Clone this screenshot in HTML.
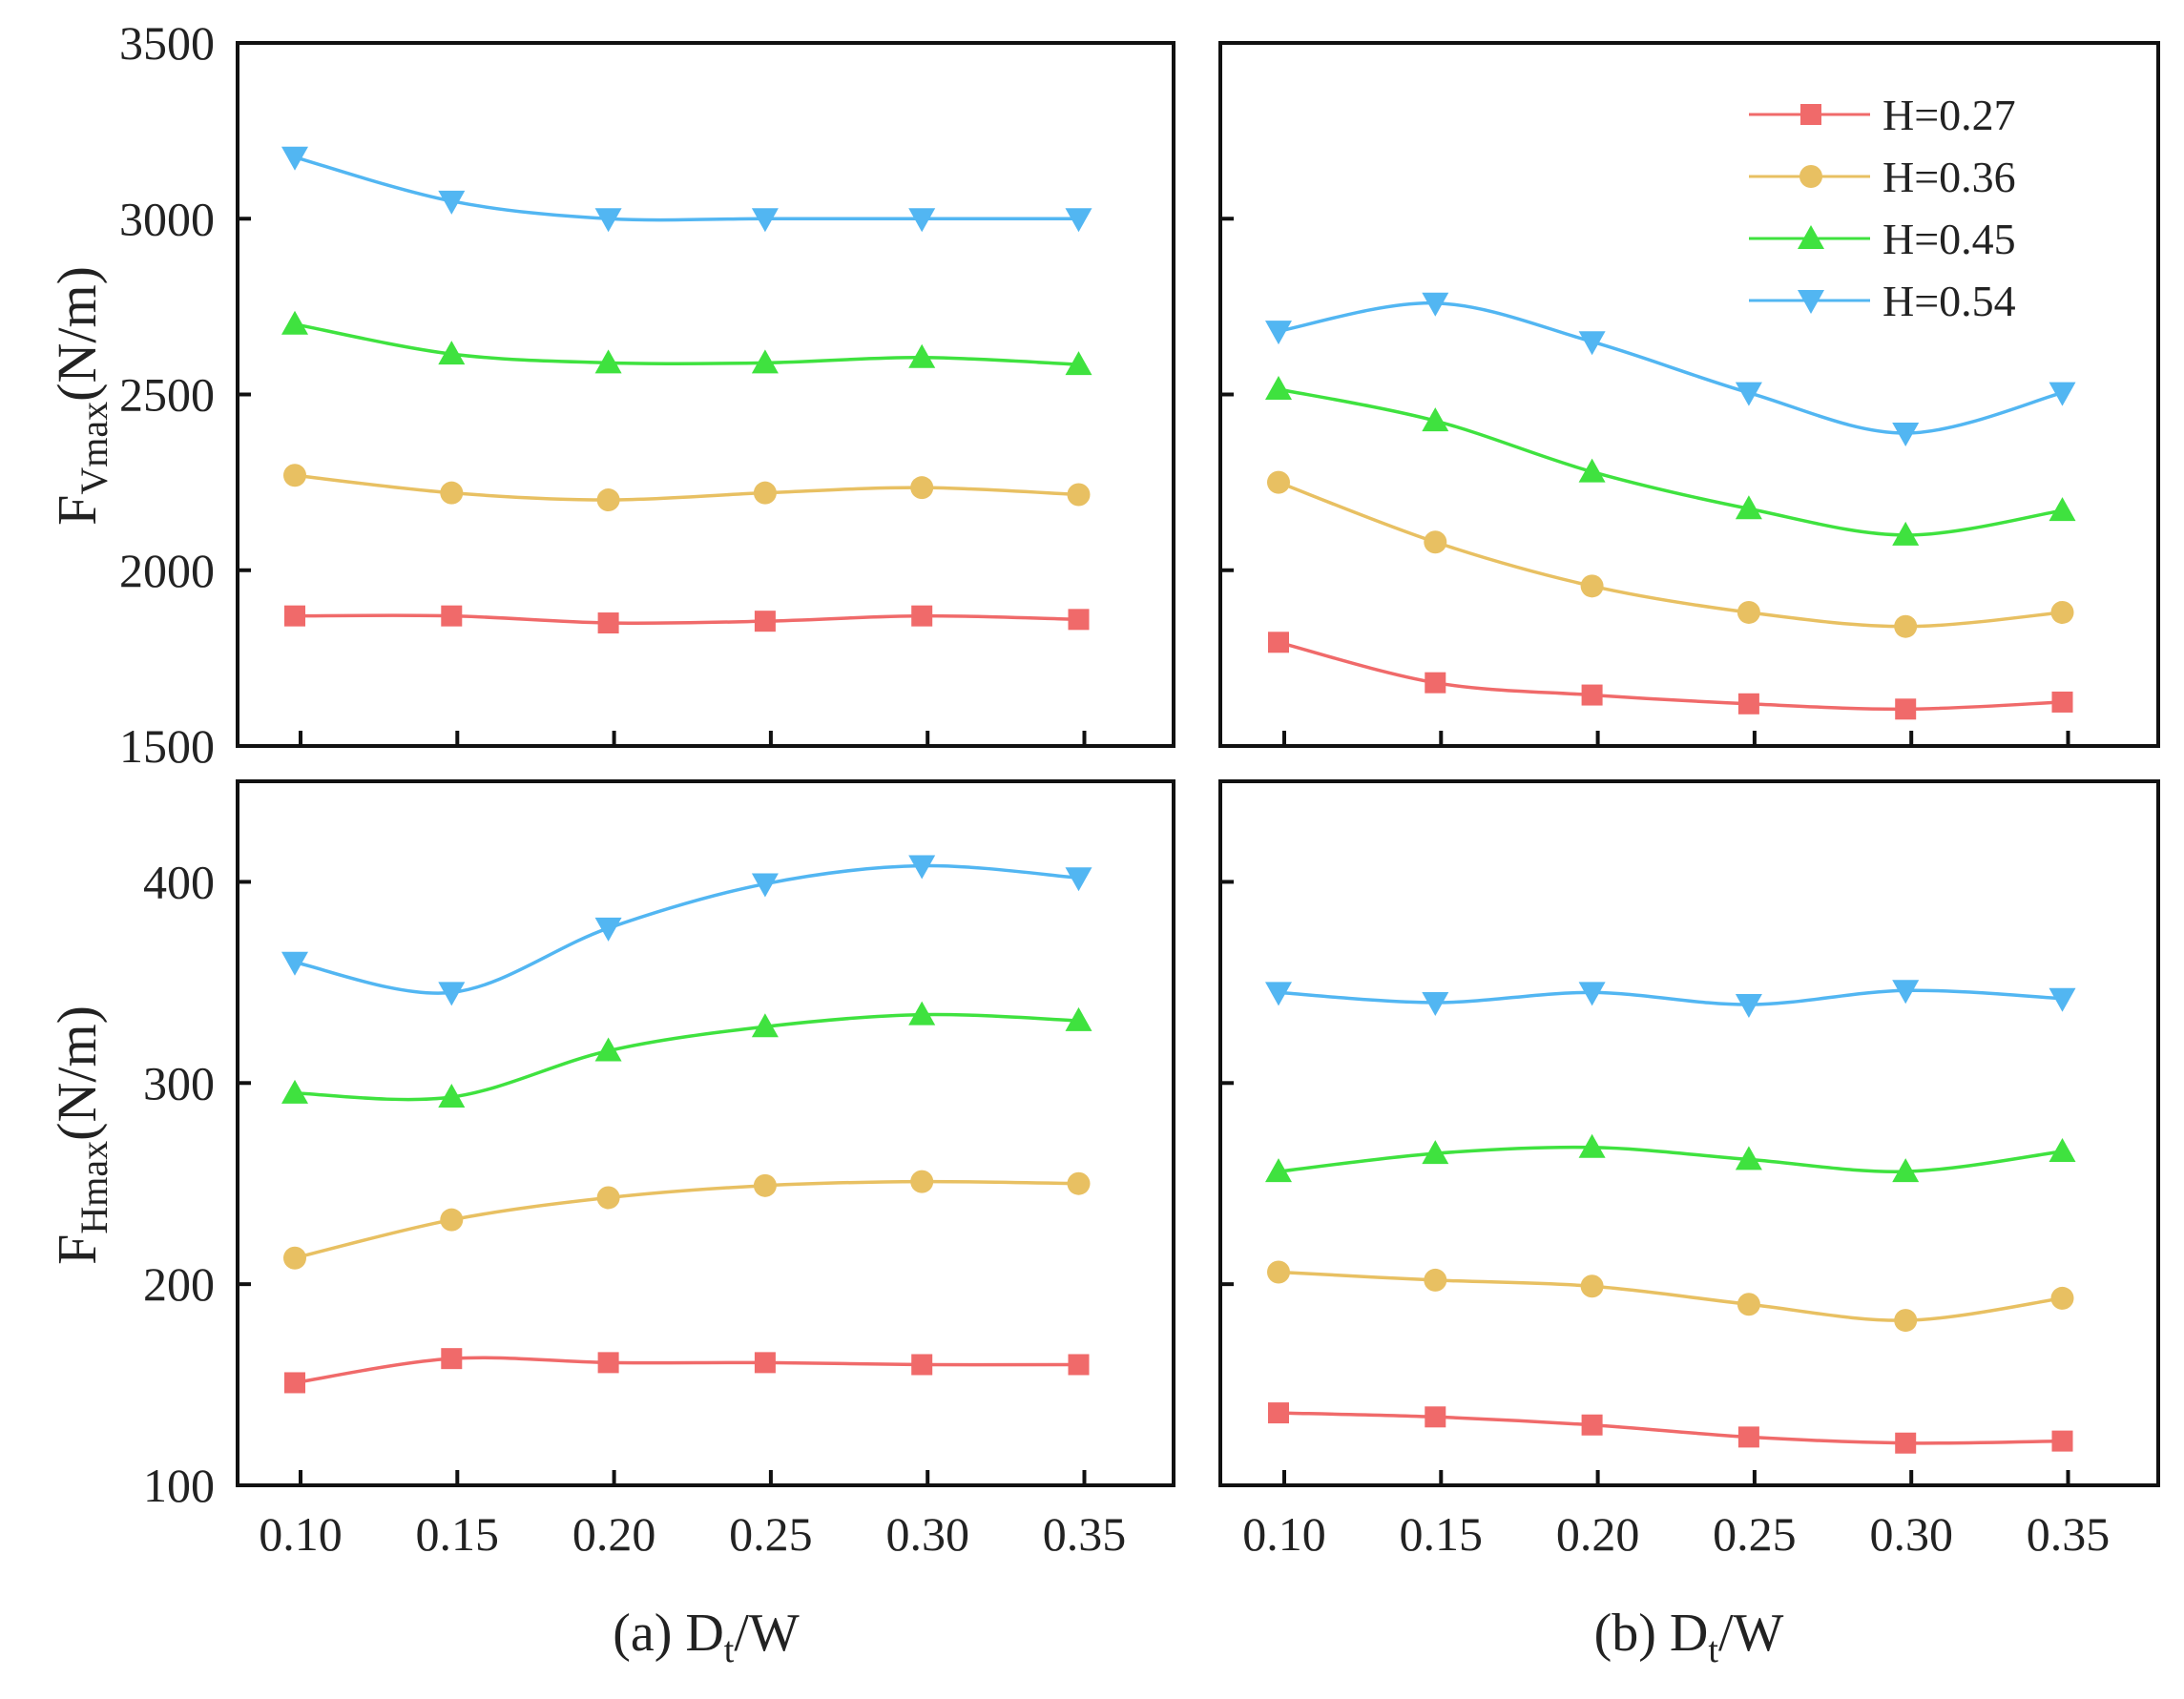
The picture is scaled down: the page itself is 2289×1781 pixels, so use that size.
<!DOCTYPE html>
<html><head><meta charset="utf-8"><style>
html,body{margin:0;padding:0;background:#fff}
svg{display:block}
text{font-family:"Liberation Serif",serif;fill:#222}
</style></head><body>
<svg id="s" width="2289" height="1781" viewBox="0 0 2289 1781" xmlns="http://www.w3.org/2000/svg">
<text x="740" y="1730" font-size="56" text-anchor="middle">(a) D<tspan font-size="38" dy="12">t</tspan><tspan dy="-12">/W</tspan></text>
<text x="1770" y="1730" font-size="56" text-anchor="middle">(b) D<tspan font-size="38" dy="12">t</tspan><tspan dy="-12">/W</tspan></text>
<text transform="translate(100,415) rotate(-90)" font-size="58" text-anchor="middle">F<tspan font-size="40" dy="12">Vmax</tspan><tspan dy="-12">(N/m)</tspan></text>
<text transform="translate(100,1190) rotate(-90)" font-size="58" text-anchor="middle">F<tspan font-size="40" dy="12">Hmax</tspan><tspan dy="-12">(N/m)</tspan></text>
</svg>
<script>
const S=document.getElementById('s');const NS='http://www.w3.org/2000/svg';
function el(t,a,p){const e=document.createElementNS(NS,t);for(const k in a)e.setAttribute(k,a[k]);(p||S).appendChild(e);return e;}
const C=['#f06a6a','#e8c062','#3fe23f','#52b6f2'];
function marker(i,x,y){
 if(i==0)el('rect',{x:x-11,y:y-11,width:22,height:22,fill:C[0]});
 else if(i==1)el('circle',{cx:x,cy:y,r:12,fill:C[1]});
 else if(i==2)el('polygon',{points:`${x-14},${y+11} ${x+14},${y+11} ${x},${y-14}`,fill:C[2]});
 else el('polygon',{points:`${x-14},${y-11} ${x+14},${y-11} ${x},${y+14}`,fill:C[3]});
}
function smooth(p){let d=`M${p[0][0]},${p[0][1]}`;for(let i=0;i<p.length-1;i++){const p0=p[i-1]||p[i],p1=p[i],p2=p[i+1],p3=p[i+2]||p2;
 const c1=[p1[0]+(p2[0]-p0[0])/6,p1[1]+(p2[1]-p0[1])/6],c2=[p2[0]-(p3[0]-p1[0])/6,p2[1]-(p3[1]-p1[1])/6];
 d+=` C${c1[0]},${c1[1]} ${c2[0]},${c2[1]} ${p2[0]},${p2[1]}`;}return d;}
function panel(x0,x1,y0,y1,vmin,vmax,ticks,labels,t0,data,xl){
 const ty=v=>y1-(v-vmin)/(vmax-vmin)*(y1-y0);
 const tx=[0,1,2,3,4,5].map(i=>t0+i*164.3);
 data.forEach((s,i)=>{const pts=s.map((v,j)=>[tx[j]-6,ty(v)]);
  el('path',{d:smooth(pts),fill:'none',stroke:C[i],'stroke-width':3.5});
  pts.forEach(p=>marker(i,p[0],p[1]));});
 el('rect',{x:x0,y:y0,width:x1-x0,height:y1-y0,fill:'none',stroke:'#111','stroke-width':4});
 ticks.forEach(v=>{const y=ty(v);el('line',{x1:x0,y1:y,x2:x0+14,y2:y,stroke:'#111','stroke-width':4});
  if(labels){const t=el('text',{x:x0-24,y:y+17,'font-size':50,'text-anchor':'end'});t.textContent=v;}});
 tx.forEach((x,j)=>{el('line',{x1:x,y1:y1,x2:x,y2:y1-16,stroke:'#111','stroke-width':4});
  if(xl){const t=el('text',{x:x,y:1625,'font-size':50,'text-anchor':'middle'});t.textContent=(0.10+0.05*j).toFixed(2);}});
}
panel(249,1230,45,782,1500,3500,[1500,2000,2500,3000,3500],true,315,[
[1870,1870,1850,1855,1870,1860],[2270,2220,2200,2220,2235,2215],[2700,2615,2590,2590,2605,2585],[3175,3050,3000,3000,3000,3000]],false);
panel(1279,2262,45,782,1500,3500,[2000,2500,3000],false,1346,[
[1795,1680,1645,1620,1605,1625],[2250,2080,1955,1880,1840,1880],[2515,2425,2280,2175,2100,2170],[2680,2760,2650,2505,2390,2505]],false);
panel(249,1230,819,1557,100,450,[100,200,300,400],true,315,[
[151,163,161,161,160,160],[213,232,243,249,251,250],[295,293,316,328,334,331],[360,345,377,399,408,402]],true);
panel(1279,2262,819,1557,100,450,[200,300,400],false,1346,[
[136,134,130,124,121,122],[206,202,199,190,182,193],[256,265,268,262,256,266],[345,340,345,339,346,342]],true);
['H=0.27','H=0.36','H=0.45','H=0.54'].forEach((s,i)=>{const y=120+i*65;
 el('line',{x1:1833,y1:y,x2:1960,y2:y,stroke:C[i],'stroke-width':3});marker(i,1898,y);
 const t=el('text',{x:1973,y:y+16,'font-size':46});t.textContent=s;});
</script>
</body></html>
